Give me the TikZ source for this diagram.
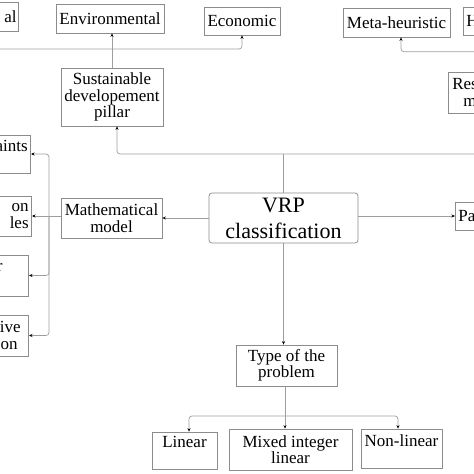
\documentclass[tikz,border=0pt]{standalone}
\usepackage{fontspec}
\setmainfont{Liberation Serif}
\usetikzlibrary{arrows.meta, positioning}
\definecolor{boxgray}{gray}{0.55}
\definecolor{linegray}{gray}{0.62}
\newcommand{\boxfont}{\fontsize{17}{16.5}\selectfont}
\newcommand{\rootfont}{\fontsize{22}{26}\selectfont}
\newcommand{\gap}[1]{\makebox[#1]{}}
\tikzstyle{arrow} = [draw=linegray, line width=0.7pt, -{Stealth[length=3.5pt, width=3pt, black]}]
\tikzstyle{line} = [draw=linegray, line width=0.7pt]
\tikzstyle{block} = [draw=boxgray, line width=0.7pt, fill=white, rectangle, 
    align=center, inner sep=2pt, font=\boxfont]
\tikzstyle{cutblock} = [block, inner xsep=0pt, text width=60pt]
\tikzstyle{rootblock} = [block, rounded corners=3pt, font=\rootfont]

\begin{document}
\begin{tikzpicture}[x=1pt, y=-1pt]
     \useasboundingbox (0,0) rectangle (474,474);
     \clip (0,0) rectangle (474,474);

     % root
     \node [rootblock, minimum width=149pt, minimum height=50pt] (vrp) at (283.5,218) {VRP\\classification};

     % sustainable developement pillar
     \node [block, minimum width=102pt, minimum height=58pt] (sust) at (112,97) {Sustainable\\developement\\pillar};
     \node [cutblock, anchor=east, align=right, minimum height=29pt] (social) at (19,16.5) {al\gap{2pt}};
     \node [block, minimum width=108pt, minimum height=29pt] (env) at (110,18.5) {Environmental};
     \node [block, minimum width=76pt, minimum height=28pt] (eco) at (242,21) {Economic};
     \coordinate (pillarhub) at (112,49);
     \draw [line] (sust.north) -- (pillarhub);
     \draw [arrow] (pillarhub) -- (pillarhub |- env.south);
     \draw [arrow, rounded corners=3pt] (pillarhub) -| (eco.south);
     \draw [arrow, rounded corners=3pt] (pillarhub) -| (social.south);

     % resolution
     \node [cutblock, anchor=west, align=left, minimum height=41pt] (res) at (448,92.5) {\gap{4pt}Res\\\gap{15pt}m};
     \node [block, minimum width=107pt, minimum height=29pt] (meta) at (396.5,22.5) {Meta-heuristic};
     \node [cutblock, anchor=west, align=left, minimum height=28pt] (heur) at (463,21) {\gap{3pt}H};
     \coordinate (methodhub) at ([yshift=20pt]res.north);
     \draw [line] (res.north) -- (methodhub);
     \draw [arrow, rounded corners=3pt] (methodhub) -| ([xshift=4.5pt]meta.south);
     \draw [arrow, rounded corners=3pt] (methodhub) -| (heur.south);

     \coordinate (vrphub) at (283.5,154);
     \draw [line] (vrp.north) -- (vrphub);
     \draw [arrow, rounded corners=3pt] (vrphub) -| ([xshift=5pt]sust.south);
     \draw [arrow, rounded corners=3pt] (vrphub) -| (res.south);

     % mathematical model
     \node [block, minimum width=101pt, minimum height=40pt] (math) at (111.5,218) {Mathematical\\model};
     \node [cutblock, anchor=east, align=right, minimum height=38pt] (cons) at (31,154) {aints\gap{3pt}\\~};
     \node [cutblock, anchor=east, align=right, minimum height=40pt] (dec) at (32,216) {on\gap{3pt}\\les\gap{3pt}};
     \node [cutblock, anchor=east, align=right, minimum height=41pt] (third) at (29,275.5) {r\gap{26pt}\\~};
     \node [cutblock, anchor=east, align=right, minimum height=41pt] (obj) at (29,335.5) {ive\gap{8pt}\\on\gap{11pt}};
     \draw [arrow] (vrp.west) -- (math.east);
     \draw [arrow] (dec.east -| math.west) -- (dec.east);
     \coordinate (mathhub) at (49,216);
     \draw [arrow, rounded corners=3pt] (mathhub) |- (cons.east);
     \draw [arrow, rounded corners=3pt] (mathhub) |- (third.east);
     \draw [arrow, rounded corners=3pt] (mathhub) |- (obj.east);

     % right branch
     \node [cutblock, anchor=west, align=left, minimum height=28pt] (param) at (455,216) {\gap{3pt}Pa};
     \draw [arrow] (param.west -| vrp.east) -- (param.west);

     % type of the problem
     \node [block, minimum width=101pt, minimum height=41pt] (type) at (286.5,365.5) {Type of the\\problem};
     \node [block, minimum width=65pt, minimum height=37pt] (lin) at (184.5,450.5) {Linear\\~};
     \node [block, minimum width=123pt, minimum height=41pt] (mix) at (290.5,449.5) {Mixed integer\\linear};
     \node [block, minimum width=81pt, minimum height=39pt] (non) at (401.5,448.5) {Non-linear\\~};
     \draw [arrow] (vrp.south) -- (vrp.south |- type.north);
     \coordinate (typehub) at (285,416);
     \draw [line] (typehub |- type.south) -- (typehub);
     \draw [arrow, rounded corners=3pt] (typehub) -| ([xshift=4.5pt]lin.north);
     \draw [arrow] (typehub) -- (typehub |- mix.north);
     \draw [arrow, rounded corners=3pt] (typehub) -| ([xshift=-3.5pt]non.north);
\end{tikzpicture}
\end{document}
